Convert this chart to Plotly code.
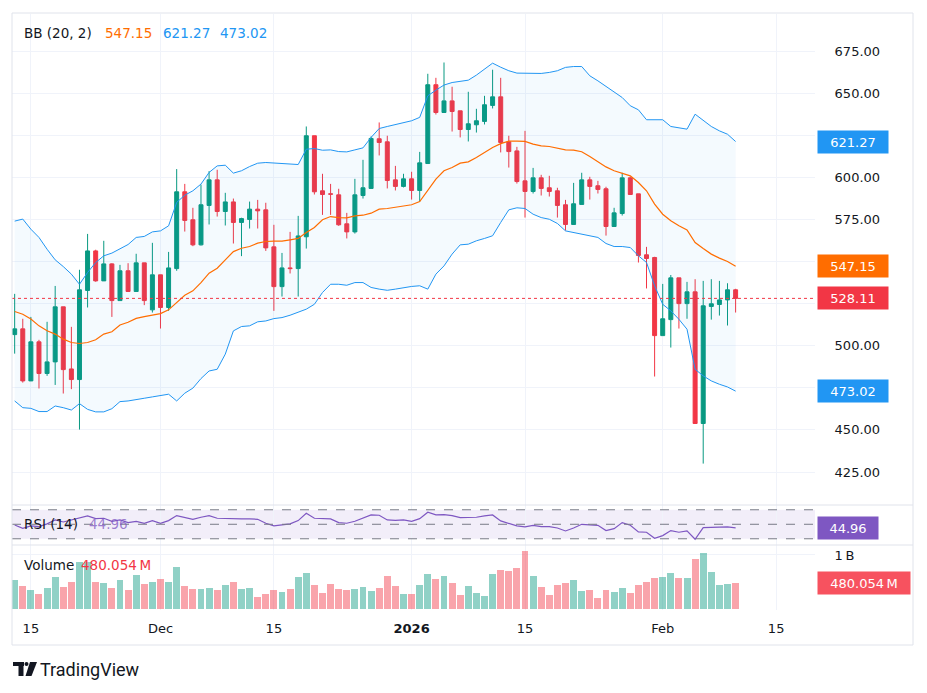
import pandas as pd
import plotly.graph_objects as go

# ---------------- data ----------------
start_date = "2025-11-13"
n_days = 90
dates = pd.date_range(start_date, periods=n_days, freq="D")

opens = [506.6, 510.0, 479.1, 502.3, 483.5, 490.4, 523.1, 486.2, 479.9, 532.8,
         556.3, 538.5, 548.6, 526.8, 544.5, 532.2, 549.2, 521.3, 542.1, 522.7,
         545.8, 591.4, 574.8, 559.9, 583.3, 598.5, 579.7, 585.4, 573.2, 575.0,
         581.1, 580.7, 558.7, 535.1, 546.2, 545.8, 564.7, 624.7, 592.0, 590.2,
         589.6, 572.4, 567.6, 589.2, 593.4, 622.9, 621.1, 598.5, 594.6, 599.1,
         592.2, 608.2, 655.0, 638.5, 645.4, 639.5, 628.4, 631.2, 633.2, 642.7,
         647.8, 621.1, 615.7, 597.9, 591.6, 599.7, 593.8, 592.0, 583.7, 572.0,
         583.9, 598.5, 595.0, 593.2, 570.8, 578.5, 599.7, 590.2, 554.0, 552.4,
         506.0, 515.5, 540.3, 525.0, 532.0, 453.8, 523.3, 524.5, 527.2, 533.2]
highs = [530.8, 516.0, 517.1, 503.5, 514.2, 535.5, 523.1, 511.2, 545.1, 566.4,
         557.0, 562.3, 549.0, 548.0, 549.0, 554.6, 549.2, 561.1, 542.1, 555.7,
         604.9, 596.1, 581.9, 595.7, 603.7, 604.5, 590.8, 587.4, 576.0, 585.6,
         586.6, 584.9, 571.8, 555.1, 567.6, 577.1, 630.2, 624.7, 602.1, 596.1,
         593.2, 578.9, 599.1, 610.4, 624.3, 632.6, 624.7, 606.8, 602.1, 603.3,
         615.1, 661.5, 659.1, 668.2, 653.8, 639.5, 650.8, 640.7, 648.4, 663.9,
         659.1, 624.7, 618.1, 627.6, 605.6, 601.5, 600.9, 593.8, 586.6, 596.7,
         602.7, 600.3, 597.9, 594.4, 581.9, 602.7, 600.5, 590.2, 558.7, 552.8,
         536.7, 542.0, 540.3, 537.9, 539.5, 538.5, 539.5, 538.5, 537.1, 533.8]
lows = [495.3, 478.1, 479.0, 474.6, 482.1, 476.7, 471.6, 474.2, 450.2, 522.7,
        538.0, 538.5, 517.1, 526.8, 532.0, 532.2, 524.1, 519.7, 510.2, 520.7,
        544.5, 567.8, 559.1, 559.5, 572.0, 576.7, 571.4, 560.7, 553.2, 569.6,
        569.6, 556.3, 520.7, 529.2, 542.9, 529.2, 557.7, 589.8, 577.7, 577.7,
        571.2, 563.7, 566.6, 587.4, 593.4, 613.0, 593.4, 592.2, 594.0, 586.8,
        585.6, 608.2, 637.3, 638.5, 627.2, 623.7, 621.3, 626.6, 631.4, 640.9,
        614.8, 605.8, 596.3, 576.1, 590.4, 589.2, 588.6, 576.1, 568.4, 572.0,
        583.9, 586.8, 590.4, 565.4, 570.8, 577.3, 589.8, 549.4, 534.0, 481.7,
        506.0, 498.9, 510.2, 516.0, 453.8, 430.0, 515.5, 517.9, 512.0, 519.7]
closes = [510.0, 479.1, 502.3, 483.5, 490.4, 523.1, 485.8, 479.9, 533.2, 556.3,
          538.5, 548.6, 526.8, 544.5, 532.2, 549.2, 526.8, 542.1, 522.7, 546.2,
          591.4, 574.4, 559.9, 583.7, 598.5, 579.7, 585.4, 573.2, 575.5, 581.1,
          580.1, 558.1, 535.1, 546.2, 545.8, 565.2, 624.7, 591.4, 589.8, 590.0,
          571.8, 567.6, 589.6, 593.8, 623.1, 620.7, 598.1, 594.6, 599.1, 592.2,
          608.6, 655.0, 638.5, 645.4, 639.1, 628.4, 631.8, 633.6, 643.1, 647.8,
          620.7, 615.3, 597.5, 591.6, 599.7, 593.4, 591.6, 583.3, 572.0, 584.3,
          598.5, 594.6, 592.8, 570.8, 578.9, 599.7, 589.8, 553.6, 551.8, 506.0,
          516.0, 540.3, 525.0, 532.0, 453.8, 523.7, 524.9, 527.2, 533.2, 528.11]

bb_upper = [574.0, 575.2, 569.2, 564.3, 557.3, 551.0, 547.0, 542.5, 536.5, 543.5,
            549.4, 553.4, 555.0, 557.7, 560.1, 564.3, 564.9, 567.6, 568.2, 571.2,
            585.1, 589.4, 592.0, 596.0, 602.9, 606.8, 607.2, 602.5, 603.9, 606.4,
            608.4, 608.8, 608.4, 608.2, 607.8, 607.6, 616.7, 617.1, 616.1, 616.3,
            615.3, 615.1, 616.3, 617.5, 623.7, 629.0, 630.2, 631.2, 632.6, 633.6,
            635.6, 648.4, 651.8, 654.8, 656.3, 656.9, 657.7, 660.7, 664.3, 667.8,
            665.4, 663.3, 661.9, 661.7, 661.7, 661.7, 662.3, 663.3, 665.3, 665.8,
            665.8, 660.3, 657.3, 654.0, 650.4, 647.4, 642.5, 640.1, 634.2, 634.2,
            634.2, 630.2, 629.6, 628.6, 637.5, 633.6, 630.2, 627.6, 625.6, 621.27]
bb_mid = [520.3, 518.7, 515.8, 511.8, 508.9, 506.9, 503.9, 501.9, 501.3, 501.9,
          503.5, 506.9, 508.3, 512.3, 513.9, 516.2, 517.3, 518.3, 519.1, 521.3,
          525.7, 530.0, 532.6, 537.5, 543.1, 546.0, 551.0, 555.9, 557.9, 558.9,
          560.9, 561.9, 562.1, 562.1, 562.9, 563.7, 567.2, 570.2, 574.8, 576.7,
          576.1, 575.9, 577.1, 577.5, 578.7, 581.1, 581.5, 582.1, 583.1, 583.7,
          585.6, 592.0, 598.9, 603.9, 605.8, 608.4, 609.2, 611.8, 614.8, 617.7,
          620.0, 621.5, 621.5, 621.3, 619.7, 618.7, 618.3, 617.3, 616.3, 616.1,
          615.2, 612.4, 609.2, 606.2, 603.9, 602.5, 600.9, 596.9, 592.0, 584.1,
          578.1, 574.2, 571.2, 568.8, 561.3, 557.7, 554.4, 552.0, 550.0, 547.15]
bb_lower = [467.2, 463.2, 462.8, 460.9, 460.9, 464.2, 463.2, 461.8, 465.6, 462.2,
            460.7, 460.7, 462.6, 466.8, 467.2, 468.2, 468.8, 469.6, 470.6, 471.2,
            467.2, 471.8, 474.8, 480.5, 485.0, 486.0, 495.0, 508.8, 511.4, 511.8,
            514.2, 514.7, 516.1, 516.7, 518.1, 519.7, 521.7, 524.6, 531.6, 536.5,
            536.5, 535.9, 537.5, 537.5, 534.6, 533.6, 532.9, 533.6, 534.6, 535.2,
            535.6, 533.6, 542.5, 547.4, 554.4, 559.9, 560.3, 562.3, 563.7, 565.3,
            573.2, 580.7, 581.9, 581.5, 578.1, 576.1, 575.1, 572.6, 568.2, 567.2,
            566.2, 565.6, 564.3, 560.7, 558.9, 558.9, 558.3, 553.4, 549.4, 535.6,
            524.6, 520.7, 515.7, 509.8, 486.0, 482.1, 479.1, 477.1, 475.5, 473.02]

rsi = [49.1, 44.5, 47.7, 46.8, 50.5, 56.0, 53.2, 56.0, 58.3, 61.5,
       57.8, 58.3, 54.1, 56.0, 52.3, 54.1, 51.4, 55.1, 51.4, 55.1,
       62.0, 59.7, 56.9, 59.7, 62.0, 58.3, 57.8, 56.9, 57.4, 57.4,
       56.9, 51.4, 47.7, 49.1, 50.5, 55.1, 65.2, 58.3, 57.8, 57.4,
       52.3, 51.4, 54.1, 58.3, 62.9, 62.5, 56.0, 55.5, 56.0, 54.1,
       57.8, 66.6, 62.9, 63.3, 62.0, 59.2, 59.2, 59.7, 61.5, 62.9,
       54.6, 51.4, 47.7, 46.3, 48.6, 46.8, 46.8, 44.9, 40.8, 44.9,
       50.0, 49.1, 48.6, 41.3, 44.0, 52.3, 48.6, 39.4, 39.0, 30.7,
       34.4, 41.3, 39.0, 40.8, 29.3, 45.4, 45.4, 45.9, 46.3, 44.96]

volume_b = [0.537, 0.426, 0.352, 0.278, 0.389, 0.593, 0.407, 0.506, 0.870, 0.870,
            0.500, 0.481, 0.389, 0.537, 0.352, 0.630, 0.463, 0.500, 0.556, 0.500,
            0.778, 0.426, 0.370, 0.370, 0.389, 0.352, 0.444, 0.500, 0.370, 0.389,
            0.222, 0.278, 0.352, 0.315, 0.370, 0.593, 0.667, 0.444, 0.296, 0.463,
            0.370, 0.352, 0.370, 0.407, 0.333, 0.389, 0.611, 0.426, 0.278, 0.278,
            0.444, 0.648, 0.556, 0.611, 0.481, 0.259, 0.426, 0.296, 0.241, 0.648,
            0.722, 0.704, 0.759, 1.074, 0.611, 0.407, 0.259, 0.444, 0.481, 0.537,
            0.333, 0.352, 0.204, 0.352, 0.315, 0.389, 0.296, 0.444, 0.500, 0.574,
            0.593, 0.667, 0.574, 0.574, 0.926, 1.037, 0.685, 0.444, 0.463, 0.480054]

# price grid every 25; labels hidden where the value tags sit on the axis
price_ticks = [425, 450, 475, 500, 525, 550, 575, 600, 625, 650, 675]
price_hidden = [475, 525, 550, 625]
x_tick_dates = ["2025-11-15", "2025-12-01", "2025-12-15", "2026-01-01",
                "2026-01-15", "2026-02-01", "2026-02-15"]
x_tick_text = ["15", "Dec", "15", "<b>2026</b>", "15", "Feb", "15"]

bb_label = "BB (20, 2)"
rsi_label = "RSI (14)"
vol_label = "Volume"
last_close = closes[-1]
last_rsi = rsi[-1]
last_vol_text = "480.054\u2009M"

# ---------------- styling ----------------
GREEN = "#089981"
RED = "#F23645"
BLUE = "#2196F3"
ORANGE = "#FF6D00"
PURPLE = "#7E57C2"
TXT = "#131722"
GRID = "#F0F3FA"
SEP = "#E0E3EB"
FONT = "DejaVu Sans, sans-serif"

# page body has an 8px margin: figure is drawn 8px in from the corner
OFF = 8
W, H = 927 - OFF, 693 - OFF
# plot area in reference-window pixels
PL, PR, PT, PB = 12, 815, 14, 610


def px(x):
    return (x - PL) / (PR - PL)


def py(y):
    return (PB - y) / (PB - PT)


main_dom = [py(505), 1.0]
rsi_dom = [py(545), py(505)]
vol_dom = [0.0, py(545)]

base = pd.Timestamp(start_date)
day = pd.Timedelta(days=1)
x_range = [base - 0.33 * day, base + 98.8 * day]

fig = go.Figure()

# Bollinger fill + lines
fig.add_trace(go.Scatter(x=dates, y=bb_upper, mode="lines",
                         line=dict(color=BLUE, width=1), hoverinfo="skip",
                         showlegend=False, yaxis="y"))
fig.add_trace(go.Scatter(x=dates, y=bb_lower, mode="lines",
                         line=dict(color=BLUE, width=1), fill="tonexty",
                         fillcolor="rgba(33,150,243,0.05)", hoverinfo="skip",
                         showlegend=False, yaxis="y"))
fig.add_trace(go.Scatter(x=dates, y=bb_mid, mode="lines",
                         line=dict(color=ORANGE, width=1.2), hoverinfo="skip",
                         showlegend=False, yaxis="y"))

# candles
fig.add_trace(go.Candlestick(
    x=dates, open=opens, high=highs, low=lows, close=closes,
    increasing=dict(line=dict(color=GREEN, width=1), fillcolor=GREEN),
    decreasing=dict(line=dict(color=RED, width=1), fillcolor=RED),
    whiskerwidth=0, showlegend=False, yaxis="y"))

# RSI
fig.add_trace(go.Scatter(x=dates, y=rsi, mode="lines",
                         line=dict(color=PURPLE, width=1.2), hoverinfo="skip",
                         showlegend=False, yaxis="y2"))

# Volume
vol_colors = ["rgba(8,153,129,0.45)" if c >= o else "rgba(242,54,69,0.45)"
              for o, c in zip(opens, closes)]
fig.add_trace(go.Bar(x=dates, y=volume_b, marker=dict(color=vol_colors, line=dict(width=0)),
                     width=0.86 * 86400000, showlegend=False, hoverinfo="skip",
                     yaxis="y3"))

shapes = []
# RSI band + dashed levels
shapes.append(dict(type="rect", xref="paper", yref="y2", x0=0, x1=1, y0=30, y1=70,
                   fillcolor="rgba(126,87,194,0.1)", line=dict(width=0), layer="below"))
for lvl in (70, 50, 30):
    shapes.append(dict(type="line", xref="paper", yref="y2", x0=0, x1=1, y0=lvl, y1=lvl,
                       line=dict(color="#787B86", width=1, dash="dash")))
# last price dotted line
shapes.append(dict(type="line", xref="paper", yref="y", x0=0, x1=1,
                   y0=last_close, y1=last_close,
                   line=dict(color=RED, width=1, dash="dot")))
# pane separators
for yy in (505, 545):
    shapes.append(dict(type="line", xref="paper", yref="paper", x0=px(12), x1=px(913),
                       y0=py(yy), y1=py(yy), line=dict(color=SEP, width=1)))
# frame
shapes.append(dict(type="rect", xref="paper", yref="paper", x0=px(12), x1=px(913),
                   y0=py(645), y1=py(13), line=dict(color=SEP, width=1)))
# TradingView logo glyph
shapes.append(dict(type="rect", xref="paper", yref="paper", x0=px(13), x1=px(24),
                   y0=py(666), y1=py(662), fillcolor=TXT, line=dict(width=0)))
shapes.append(dict(type="rect", xref="paper", yref="paper", x0=px(18.5), x1=px(23.5),
                   y0=py(676), y1=py(662), fillcolor=TXT, line=dict(width=0)))
shapes.append(dict(type="circle", xref="paper", yref="paper", x0=px(24.5), x1=px(28.5),
                   y0=py(666), y1=py(662), fillcolor=TXT, line=dict(width=0)))
shapes.append(dict(type="path", xref="paper", yref="paper",
                   path=f"M {px(30)},{py(662)} L {px(37)},{py(662)} L {px(31.5)},{py(676)} L {px(25.5)},{py(676)} Z",
                   fillcolor=TXT, line=dict(width=0)))

ann = []


def text_at(x, y, s, color, size=13, anchor="left", family=FONT):
    ann.append(dict(xref="paper", yref="paper", x=px(x), y=py(y), text=s,
                    showarrow=False, xanchor=anchor, yanchor="middle",
                    font=dict(family=family, size=size, color=color)))


text_at(22, 33, bb_label, TXT, size=13.5)
text_at(103, 33, f"{bb_mid[-1]:.2f}", ORANGE, size=13.5)
text_at(161, 33, f"{bb_upper[-1]:.2f}", BLUE, size=13.5)
text_at(218, 33, f"{bb_lower[-1]:.2f}", BLUE, size=13.5)
text_at(22, 524, rsi_label, TXT, size=13.5)
text_at(87, 524, f"{last_rsi:.2f}", "rgba(126,87,194,0.75)", size=13.5)
text_at(22, 565, vol_label, TXT, size=13.5)
text_at(79, 565, last_vol_text, RED, size=13.5)
text_at(38, 669, "TradingView", TXT, size=18, family="Roboto, sans-serif")


def tag(yref, yval, s, color, w=64):
    ann.append(dict(xref="paper", yref=yref, x=px(817), y=yval, text=s,
                    showarrow=False, xanchor="left", yanchor="middle",
                    bgcolor=color, width=w, height=16, borderpad=3,
                    font=dict(family=FONT, size=13, color="white")))


tag("y", bb_upper[-1], f"{bb_upper[-1]:.2f}", BLUE)
tag("y", bb_mid[-1], f"{bb_mid[-1]:.2f}", ORANGE)
tag("y", last_close, f"{last_close:.2f}", RED)
tag("y", bb_lower[-1], f"{bb_lower[-1]:.2f}", BLUE)
tag("y2", last_rsi, f"{last_rsi:.2f}", PURPLE, w=54)
tag("y3", volume_b[-1], last_vol_text, "#F7525F", w=86)

fig.update_layout(
    width=W, height=H,
    margin=dict(l=PL - OFF, r=W - (PR - OFF), t=PT - OFF, b=H - (PB - OFF), pad=0),
    paper_bgcolor="white", plot_bgcolor="white",
    font=dict(family=FONT, size=13, color=TXT),
    showlegend=False, hovermode=False, bargap=0,
    xaxis=dict(domain=[0, 1], anchor="y3", type="date", range=x_range,
               rangeslider=dict(visible=False), showgrid=True, gridcolor=GRID,
               gridwidth=1, tickvals=x_tick_dates, ticktext=x_tick_text,
               ticks="outside", ticklen=6, tickcolor="rgba(0,0,0,0)",
               tickfont=dict(family=FONT, size=13, color=TXT),
               showline=False, zeroline=False, fixedrange=True),
    yaxis=dict(domain=main_dom, anchor="x", side="right", range=[405.4, 697],
               tickvals=price_ticks,
               ticktext=["" if v in price_hidden else f"{v:.2f}" for v in price_ticks],
               showgrid=True, gridcolor=GRID, ticks="outside", ticklen=16,
               tickcolor="rgba(0,0,0,0)", zeroline=False, showline=False,
               tickfont=dict(family=FONT, size=13, color=TXT)),
    yaxis2=dict(domain=rsi_dom, anchor="x", side="right", range=[21.4, 76.6],
                showgrid=False, showticklabels=False, zeroline=False, showline=False),
    yaxis3=dict(domain=vol_dom, anchor="x", side="right", range=[-0.0185, 1.185],
                tickvals=[1], ticktext=["1\u2009B"], showgrid=True, gridcolor=GRID,
                ticks="outside", ticklen=16, tickcolor="rgba(0,0,0,0)",
                zeroline=False, showline=False,
                tickfont=dict(family=FONT, size=13, color=TXT)),
    shapes=shapes, annotations=ann,
)

fig.write_html("out.html")
